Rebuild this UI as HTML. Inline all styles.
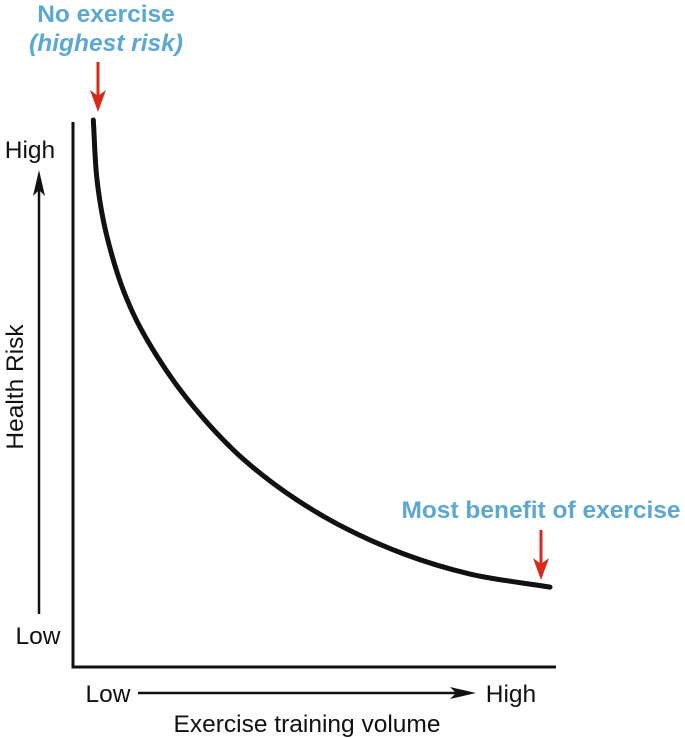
<!DOCTYPE html>
<html><head><meta charset="utf-8"><style>
html,body{margin:0;padding:0;background:#fff;}
svg{display:block;font-family:"Liberation Sans",Arial,sans-serif;}
</style></head><body>
<svg width="685" height="738" viewBox="0 0 685 738">
<g id="annotations">
<text x="106" y="22" text-anchor="middle" font-size="24.5" font-weight="bold" fill="#5ba8d1">No exercise</text>
<text x="106" y="51" text-anchor="middle" font-size="24.5" font-weight="bold" font-style="italic" fill="#5ba8d1">(highest risk)</text>
<g>
<line x1="98" y1="62" x2="98" y2="98" stroke="#d9291c" stroke-width="3"/>
<path d="M90,90 L98,112 L106,90 L98,96 Z" fill="#d9291c"/>
</g>
<text x="541" y="518" text-anchor="middle" font-size="24.5" font-weight="bold" fill="#5ba8d1">Most benefit of exercise</text>
<g>
<line x1="541" y1="530" x2="541" y2="566" stroke="#d9291c" stroke-width="3"/>
<path d="M533,558 L541,580 L549,558 L541,564 Z" fill="#d9291c"/>
</g>
</g>
<g id="axes">
<path d="M73,122 L73,667 L556,667" fill="none" stroke="#111" stroke-width="3"/>
<line x1="39" y1="614" x2="39" y2="185" stroke="#111" stroke-width="2.5"/>
<path d="M39,170 L33,196 L39,190 L45,196 Z" fill="#111"/>
<text x="30" y="158" text-anchor="middle" font-size="24.5" fill="#111">High</text>
<text x="38" y="644" text-anchor="middle" font-size="24.5" fill="#111">Low</text>
<text transform="translate(23,387) rotate(-90)" text-anchor="middle" font-size="24.5" fill="#111">Health Risk</text>
<line x1="138" y1="693" x2="465" y2="693" stroke="#111" stroke-width="2.5"/>
<path d="M476,693 L450,687 L456,693 L450,699 Z" fill="#111"/>
<text x="108" y="702" text-anchor="middle" font-size="24.5" fill="#111">Low</text>
<text x="511" y="702" text-anchor="middle" font-size="24.5" fill="#111">High</text>
<text x="307" y="732" text-anchor="middle" font-size="24.5" fill="#111">Exercise training volume</text>
</g>
<g id="plot"></g>
</svg>
<script>
const volume = [0.07, 0.81, 2.25, 4.44, 6.63, 9.56, 13.94, 19.04, 25.60, 32.89, 42.39, 53.33, 67.90, 82.49, 100];
const risk = [100, 89.6, 81.7, 74.4, 68.9, 63.3, 56.9, 50.7, 44.1, 38.0, 31.8, 26.2, 20.7, 17.0, 14.6];
function xScale(v){ return 93 + v * 4.57; }
function yScale(r){ return 667 - r * 5.47; }
const pts = volume.map((v,i)=>[xScale(v), yScale(risk[i])]);
function seg(p0,p1,p2,p3){
  const a=0.5;
  const t01=Math.pow(Math.hypot(p1[0]-p0[0],p1[1]-p0[1]),a)||1;
  const t12=Math.pow(Math.hypot(p2[0]-p1[0],p2[1]-p1[1]),a)||1;
  const t23=Math.pow(Math.hypot(p3[0]-p2[0],p3[1]-p2[1]),a)||1;
  const m1=[0,1].map(k=>(p2[k]-p1[k]+t12*((p1[k]-p0[k])/t01-(p2[k]-p0[k])/(t01+t12))));
  const m2=[0,1].map(k=>(p2[k]-p1[k]+t12*((p3[k]-p2[k])/t23-(p3[k]-p1[k])/(t12+t23))));
  return ' C'+(p1[0]+m1[0]/3)+','+(p1[1]+m1[1]/3)+' '+(p2[0]-m2[0]/3)+','+(p2[1]-m2[1]/3)+' '+p2[0]+','+p2[1];
}
let d = 'M' + pts[0][0] + ',' + pts[0][1];
for (let i = 0; i < pts.length - 1; i++) {
  const p1 = pts[i], p2 = pts[i+1];
  const p0 = pts[i-1] || [2*p1[0]-p2[0], 2*p1[1]-p2[1]];
  const p3 = pts[i+2] || [2*p2[0]-p1[0], 2*p2[1]-p1[1]];
  d += seg(p0,p1,p2,p3);
}
const path = document.createElementNS('http://www.w3.org/2000/svg','path');
path.setAttribute('d', d);
path.setAttribute('fill','none');
path.setAttribute('stroke','#111');
path.setAttribute('stroke-width','5');
path.setAttribute('stroke-linecap','round');


document.getElementById('plot').appendChild(path);
</script>
</body></html>
